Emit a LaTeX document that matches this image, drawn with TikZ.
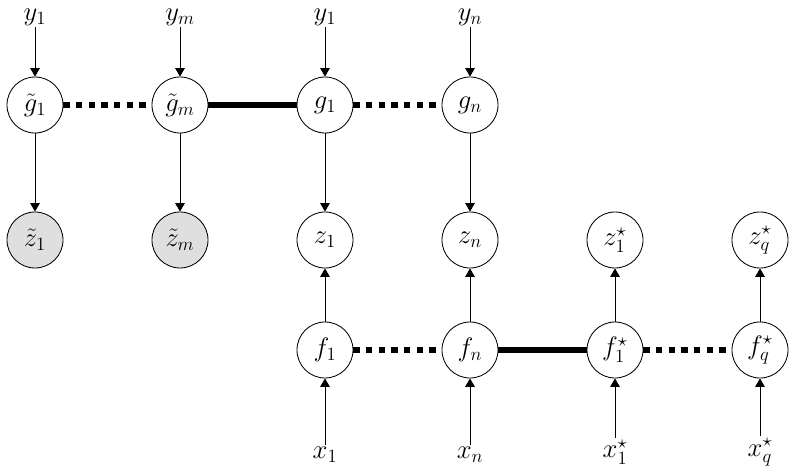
\documentclass[tikz,border=0pt]{standalone}
\usepackage{fix-cm}
\usepackage{amsmath}
\usetikzlibrary{arrows,shapes}
\tikzstyle{var} = [circle, draw, minimum size=1.4cm, inner sep=0pt, font=\fontsize{19}{22}\selectfont]
\tikzstyle{obs} = [var, fill=gray!25]
\tikzstyle{lbl} = [font=\fontsize{19}{22}\selectfont, inner sep=1pt]
\tikzstyle{gp} = [line width=4.5pt]
\tikzstyle{gpdots} = [line width=4.5pt, dash pattern=on 4.5pt off 4.5pt]

\begin{document}
\begin{tikzpicture}[x=0.025cm, y=-0.025cm, >=triangle 60, semithick]
   \useasboundingbox (0,0) rectangle (798,472);
   % nodes
   \node[var] (g1t) at (35,105)  {$\tilde g_1$};
   \node[var] (gmt) at (180,105) {$\tilde g_m$};
   \node[var] (g1)  at (325,105) {$g_1$};
   \node[var] (gn)  at (470,105) {$g_n$};
   \node[obs] (z1t) at (35,240)  {$\tilde z_1$};
   \node[obs] (zmt) at (180,240) {$\tilde z_m$};
   \node[var] (z1)  at (325,240) {$z_1$};
   \node[var] (zn)  at (470,240) {$z_n$};
   \node[var] (zs1) at (615,240) {$z_1^\star$};
   \node[var] (zsq) at (760,240) {$z_q^\star$};
   \node[var] (f1)  at (325,350) {$f_1$};
   \node[var] (fn)  at (470,350) {$f_n$};
   \node[var] (fs1) at (615,350) {$f_1^\star$};
   \node[var] (fsq) at (760,350) {$f_q^\star$};
   \node[lbl] (y1t) at (35,17)  {$y_1$};
   \node[lbl] (ymt) at (180,17) {$y_m$};
   \node[lbl] (y1)  at (325,17) {$y_1$};
   \node[lbl] (yn)  at (470,17) {$y_n$};
   \node[lbl] (x1)  at (325,455) {$x_1$};
   \node[lbl] (xn)  at (470,455) {$x_n$};
   \node[lbl] (xs1) at (615,452) {$x_1^\star$};
   \node[lbl] (xsq) at (760,452) {$x_q^\star$};

   % edges
   \foreach \a/\b in {y1t/g1t, ymt/gmt, y1/g1, yn/gn, g1t/z1t, gmt/zmt, g1/z1, gn/zn,
                      f1/z1, fn/zn, fs1/zs1, fsq/zsq, x1/f1, xn/fn, xs1/fs1, xsq/fsq}
      \draw[->] (\a) -- (\b);
   \draw[gpdots] (g1t) -- (gmt);
   \draw[gp] (gmt) -- (g1);
   \draw[gpdots] (g1) -- (gn);
   \draw[gpdots] (f1) -- (fn);
   \draw[gp] (fn) -- (fs1);
   \draw[gpdots] (fs1) -- (fsq);
\end{tikzpicture}
\end{document}
